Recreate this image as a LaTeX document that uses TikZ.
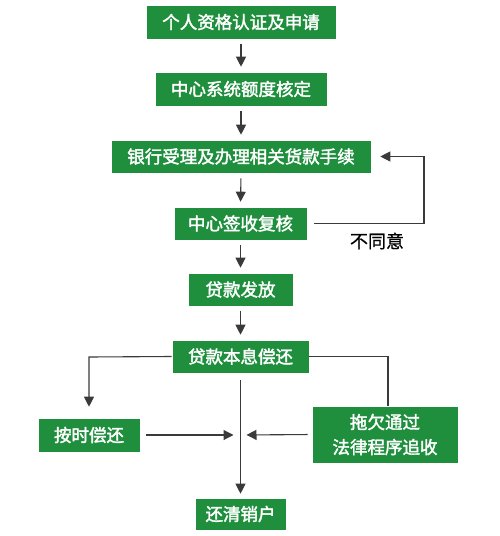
\documentclass[tikz,border=0pt]{standalone}
\usepackage{fontspec}
\newfontfamily\cjk{Noto Sans CJK SC}[FakeBold=2]
\newfontfamily\cjkr{Noto Sans CJK SC}[FakeBold=0.6]
\usetikzlibrary{arrows.meta}
\definecolor{boxgreen}{HTML}{1F8F3E}
\definecolor{linegray}{HTML}{3A3A3A}
\tikzset{
  gbox/.style={fill=boxgreen, draw=white, line width=0.6pt, text=white, font=\cjk\fontsize{17.5}{21}\selectfont, inner sep=0pt, align=center},
  conn/.style={draw=linegray, line width=1.1pt, -{Triangle[length=10pt,width=10pt]}},
  plain/.style={draw=linegray, line width=1.1pt}
}
\begin{document}
\begin{tikzpicture}[x=1pt,y=-1pt]
\useasboundingbox[fill=white] (0,0) rectangle (499,536);
\node[gbox, minimum width=190pt, minimum height=34pt] (b1) at (241,22) {个人资格认证及申请};
\node[gbox, minimum width=172pt, minimum height=34pt] (b2) at (241,89) {中心系统额度核定};
\node[gbox, minimum width=260pt, minimum height=33pt] (b3) at (241,156.5) {银行受理及办理相关货款手续};
\node[gbox, minimum width=133pt, minimum height=33pt] (b4) at (240.5,223.5) {中心签收复核};
\node[gbox, minimum width=105pt, minimum height=33pt] (b5) at (240.5,289.5) {贷款发放};
\node[gbox, minimum width=137pt, minimum height=33pt] (b6) at (240.5,356.5) {贷款本息偿还};
\node[gbox, minimum width=102pt, minimum height=34pt] (b7) at (89,435) {按时偿还};
\node[gbox, minimum width=146pt, minimum height=57pt, font=\cjk\fontsize{17.5}{25}\selectfont] (b8) at (385,434.5) {拖欠通过\\法律程序追收};
\node[gbox, minimum width=91pt, minimum height=32pt] (b9) at (240.5,514) {还清销户};
\node[font=\cjkr\fontsize{18}{20}\selectfont, text=black, inner sep=0pt] (lbl) at (377,241) {不同意};
\coordinate (loopc) at (424,223.5);
\coordinate (lc) at (89,357);
\coordinate (rc) at (388,357);
\coordinate (J) at (240.5,435);

\draw[conn, shorten <=5pt, shorten >=5pt] (b1.south) -- (b2.north);
\draw[conn, shorten <=5pt, shorten >=5pt] (b2.south) -- (b3.north);
\draw[conn, shorten <=5pt, shorten >=5pt] (b3.south) -- (b4.north);
\draw[conn, shorten <=5pt, shorten >=5pt] (b4.south) -- (b5.north);
\draw[conn, shorten <=5pt, shorten >=5pt] (b5.south) -- (b6.north);
\draw[conn, shorten <=7pt, shorten >=9pt] (b4.east) -- (loopc) |- (b3.east);
\draw[conn, shorten >=11pt] (b6.west) -- (lc) -- (b7.north);
\draw[plain] (b6.east) -| (b8.north -| rc);
\draw[conn, shorten <=7pt, shorten >=4pt] (b6.south) -- (b9.north);
\draw[conn, shorten <=6pt, shorten >=7pt] (b7.east) -- (J);
\draw[conn, shorten <=4pt, shorten >=6pt] (b8.west) -- (J);
\end{tikzpicture}
\end{document}
